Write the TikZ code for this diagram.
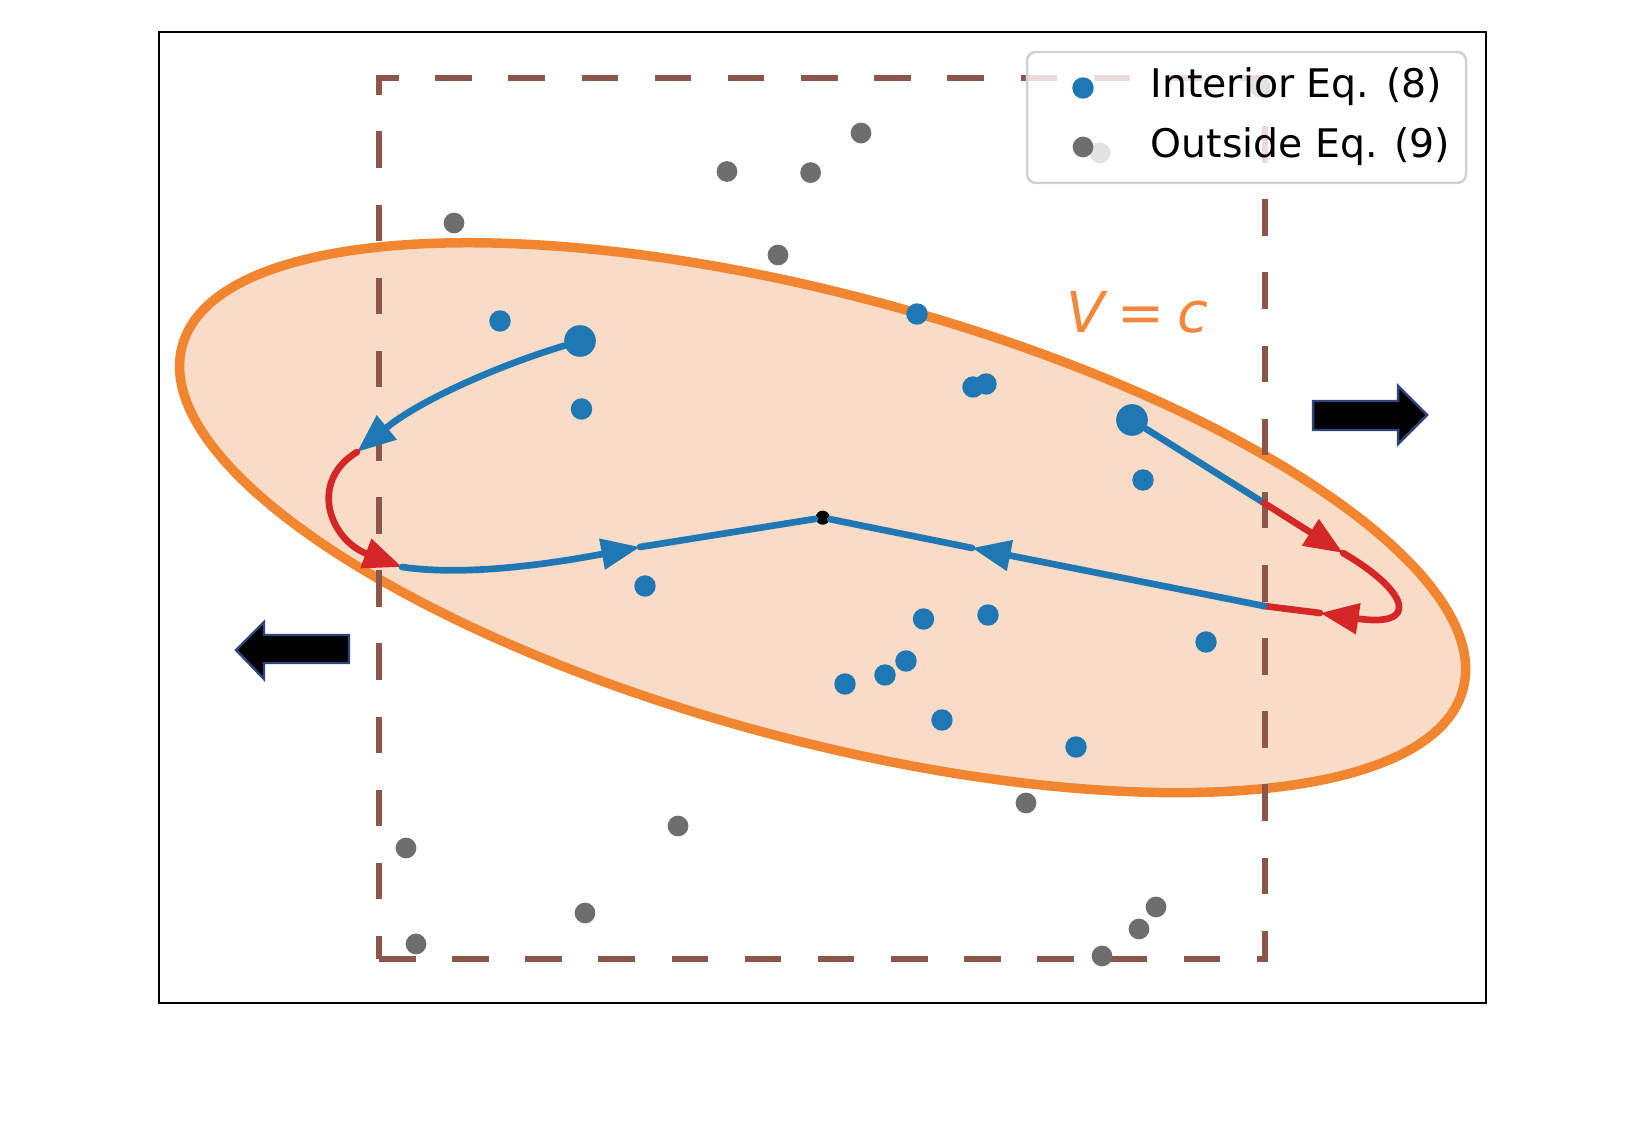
\documentclass[tikz,border=0pt]{standalone}
\usepackage{fontspec}
\setmainfont{DejaVu Sans}
\usetikzlibrary{arrows.meta}
\definecolor{tabblue}{HTML}{1F77B4}
\definecolor{tabred}{HTML}{D62728}
\definecolor{tabbrown}{HTML}{8C564B}
\definecolor{dotgray}{HTML}{6E6E6E}
\definecolor{vedge}{HTML}{F28530}
\definecolor{vfill}{HTML}{F9DCC8}
\definecolor{vtext}{HTML}{F5873C}
\definecolor{navyedge}{HTML}{2F4478}
\definecolor{legedge}{HTML}{D0D0D0}

\tikzset{
  bdot/.style={circle, fill=tabblue, inner sep=0pt, minimum size=6.1pt},
  bigdot/.style={circle, fill=tabblue, inner sep=0pt, minimum size=9pt},
  gdot/.style={circle, fill=dotgray, inner sep=0pt, minimum size=5.9pt},
  traj/.style={line width=1.9pt, line cap=round},
  tip/.style={-{Triangle[length=11pt,width=8.5pt]}},
  blockarrow/.style={fill=black, draw=navyedge, line width=0.7pt, line join=miter},
  legtext/.style={anchor=base west, inner sep=0pt, font=\fontsize{11.2}{13}\selectfont},
}

\begin{document}
\begin{tikzpicture}[x=0.01cm, y=-0.01cm]
  \useasboundingbox (0,0) rectangle (1640,1128);
  % Axes frame
  \draw[line width=0.8pt] (159,32) rectangle (1486,1003);
  % Level set
  \filldraw[fill=vfill, draw=vedge, line width=2.7pt, rotate around={-15:(822.6,517.7)}]
    (822.6,517.7) ellipse [x radius=663, y radius=222.4];
  % Box
  \draw[tabbrown, line width=1.9pt, dash pattern=on 10.4pt off 10.4pt]
    (379,959) -- (1265,959) -- (1265,78) -- (379,78) -- cycle;
  % Outside points
  \foreach \px/\py [count=\i] in {454/223, 727/171.5, 810.6/172.6, 861/133, 778/255,
      1100/153, 1260/87, 1026/803, 678/826, 406/848, 416/944, 585/913,
      1102/956, 1139/929, 1156/907}
    \node[gdot] (g\i) at (\px,\py) {};
  % Interior points
  \foreach \px/\py [count=\i] in {500/321, 581.5/409, 917/314, 973/387, 986/384,
      1143/480, 645/586, 923.5/619, 988/615, 906/661, 885/675, 845/684,
      942/720, 1076/747, 1206/642}
    \node[bdot] (b\i) at (\px,\py) {};
  % Start points and equilibrium
  \node[bigdot] (s1) at (580,341) {};
  \node[bigdot] (s2) at (1132,420) {};
  \node[circle, fill=black, inner sep=0pt, minimum size=4pt] (eq) at (822.7,517.7) {};
  % Trajectory points
  \coordinate (l1) at (357,452);
  \coordinate (l2) at (402,567);
  \coordinate (l3) at (640,547);
  \coordinate (r1) at (1264,503);
  \coordinate (r2) at (1343,553);
  \coordinate (r3) at (1320,613);
  \coordinate (r4) at (1264,606);
  \coordinate (r5) at (972,548);
  % Left trajectory
  \draw[traj, tabblue, tip] (s1) .. controls (500,365) and (420,400) .. (l1);
  \draw[traj, tabred, tip] (l1) .. controls (308,482) and (330,540) .. (l2);
  \draw[traj, tabblue, tip] (l2) .. controls (470,577) and (560,562) .. (l3);
  \draw[traj, tabblue] (l3) -- (eq);
  % Right trajectory
  \draw[traj, tabblue] (s2) -- (r1);
  \draw[traj, tabred, tip] (r1) -- (r2);
  \draw[traj, tabred, tip] (r2) .. controls (1410,592) and (1420,628) .. (r3);
  \draw[traj, tabred] (r3) -- (r4);
  \draw[traj, tabblue, tip] (r4) -- (r5);
  \draw[traj, tabblue] (r5) -- (eq);
  % Block arrows
  \draw[blockarrow] (236,650) -- (264,622) -- (264,635) -- (349,635) -- (349,663)
    -- (264,663) -- (264,679) -- cycle;
  \draw[blockarrow] (1427,415) -- (1398,386) -- (1398,401) -- (1313,401) -- (1313,430)
    -- (1398,430) -- (1398,444) -- cycle;
  % Label
  \node[anchor=base west, inner sep=0pt, text=vtext, font=\fontsize{16}{19}\selectfont]
    (vc) at (1066,333) {\itshape V\kern3.6pt{\upshape =}\kern3.6pt c};
  % Legend
  \draw[legedge, fill=white, fill opacity=0.8, line width=0.7pt, rounded corners=2.5pt]
    (1027,52) rectangle (1466,183);
  \node[bdot] (lb) at (1083,88) {};
  \node[gdot] (lg) at (1083,147) {};
  \node[legtext] (lt1) at (1150,98) {Interior Eq. (8)};
  \node[legtext] (lt2) at (1150,158) {Outside Eq. (9)};
\end{tikzpicture}
\end{document}
